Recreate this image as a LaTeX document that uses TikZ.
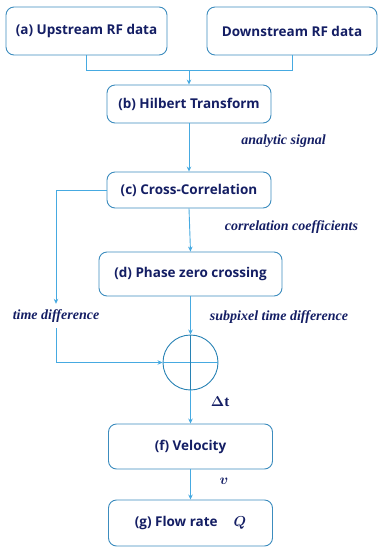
\documentclass[tikz,border=0pt]{standalone}
\usepackage{amsmath}
\usepackage{bm}
\usepackage{fontspec}
\setmainfont{Liberation Serif}
\newfontfamily\boxfont{Open Sans}
\usetikzlibrary{arrows.meta}
\definecolor{boxline}{RGB}{60,140,190}
\definecolor{conn}{RGB}{70,170,225}
\definecolor{navy}{RGB}{20,30,100}
\definecolor{circ}{RGB}{40,130,180}
\tikzset{
  stepbox/.style={draw=boxline, line width=0.9pt, rounded corners=8pt, fill=white,
    text=navy, font=\boxfont\fontsize{13.5}{16}\selectfont\bfseries, inner sep=0pt},
  conline/.style={draw=conn, line width=0.9pt},
  arr/.style={conline, -{Stealth[length=5pt,width=4.5pt]}},
  lab/.style={text=navy, font=\fontsize{14}{16}\selectfont\bfseries\itshape, inner sep=0pt},
}
\begin{document}
\begin{tikzpicture}[x=1pt,y=-1pt]
\useasboundingbox (0,0) rectangle (382,550);
\node[stepbox, minimum width=161pt, minimum height=48pt] (a) at (86.5,31) {(a) Upstream RF data};
\node[stepbox, minimum width=170pt, minimum height=48pt] (dn) at (292,31) {Downstream RF data};
\node[stepbox, minimum width=164pt, minimum height=38pt] (b) at (189,104) {(b) Hilbert Transform};
\node[stepbox, minimum width=164pt, minimum height=36pt] (c) at (189,190) {(c) Cross-Correlation};
\node[stepbox, minimum width=183pt, minimum height=44pt] (d) at (190.5,274) {(d) Phase zero crossing};
\node[draw=circ, line width=0.9pt, circle, minimum size=55pt, inner sep=0pt] (s) at (190.5,362.5) {};
\node[stepbox, minimum width=164pt, minimum height=45pt] (f) at (190.5,446.5) {(f) Velocity};
\node[stepbox, minimum width=164pt, minimum height=46pt] (g) at (190.5,523) {(g) Flow rate\hspace{16pt}$\bm{Q}$};

\node[lab] (l1) at (283.5,141) {analytic signal};
\node[lab] (l2) at (291.5,227) {correlation coefficients};
\node[lab] (l3) at (279,317) {subpixel time difference};
\node[lab, inner sep=0pt, minimum height=24pt] (l4) at (56,316) {time difference};
\node[text=navy, font=\fontsize{15}{17}\selectfont\bfseries, inner sep=0pt] (l5) at (220,402) {$\bm{\Delta}$t};
\node[text=navy, font=\fontsize{15}{17}\selectfont, inner sep=0pt] (l6) at (224,481) {$\bm{v}$};

\coordinate (ja) at (a.south |- 0,70);
\coordinate (jd) at (dn.south |- 0,70);
\coordinate (jm) at (b.north |- 0,70);
\draw[conline] (a.south) -- (ja) -- (jd) -- (dn.south);
\draw[arr] (jm) -- (b.north);
\draw[arr] (b.south) -- (c.north);
\draw[arr] (c.south) -- (d.north);
\draw[arr] (d.south) -- (s.north);
\draw[arr] (c.west) -| (l4.north);
\draw[arr] (l4.south) |- (s.west);
\draw[conline] (s.west) -- (s.east);
\draw[draw=circ, line width=0.9pt] (s.north) -- (s.south);
\draw[arr] (s.south) -- (f.north);
\draw[arr] (f.south) -- (g.north);
\end{tikzpicture}
\end{document}
